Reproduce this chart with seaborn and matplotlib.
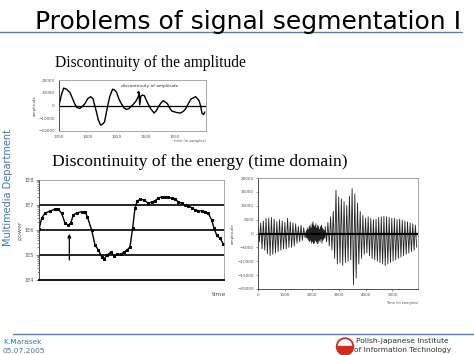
import numpy as np
import pandas as pd
import matplotlib
matplotlib.use("Agg")
import matplotlib.pyplot as plt
import seaborn as sns
from matplotlib.lines import Line2D
from matplotlib.patches import Wedge, Circle
from matplotlib.ticker import LogLocator, NullFormatter

# ---------------- data ----------------
# Panel 1: discontinuity of the amplitude
amp_sample = [1350, 1354, 1358, 1363, 1369, 1373, 1377, 1381, 1386, 1390, 1395, 1400,
              1405, 1409, 1412, 1415, 1418, 1422, 1426, 1429, 1434, 1438, 1443, 1447,
              1450, 1454, 1458, 1463, 1467, 1471, 1475, 1480, 1484, 1487, 1489, 1490,
              1492, 1495, 1498, 1503, 1509, 1515, 1519, 1522, 1527, 1531, 1538, 1542,
              1546, 1554, 1561, 1566, 1570, 1575, 1579, 1587, 1593, 1596, 1598, 1601, 1603]
amp_value = [0, 8000, 13600, 12800, 10200, 6000, 1500, -1500, -2300, -1000, 1500, 5500,
             6900, 5300, 0, -5100, -11000, -15400, -14500, -12800, -1300, 7000, 12800, 12000,
             10200, 5000, 1500, -2000, -3000, -2500, -800, 1500, 3800, 6500, 9000, 500,
             7500, 8200, 7700, 2600, -2500, -5900, -4000, -1300, 2000, 3800, 1500, -2000,
             -4400, -5500, -5900, -4500, -2300, 2000, 5100, 6900, 3800, -1000, -6200, -7000, -5100]
amp_xticks = [1350, 1400, 1450, 1500, 1550]
amp_yticks = [-20000, -10000, 0, 10000, 20000]

# Panel 2: discontinuity of the energy (log power per frame)
frame = [0, 0.8, 1.8, 3.3, 4.8, 5.8, 6.8, 7.8, 8.8, 9.5, 10.3, 11.5, 12.8, 13.8, 14.5,
         15.8, 16.8, 17.8, 18.8, 19.5, 20.5, 21.5, 22.5, 23.5, 24.5, 25.5, 26.5, 27.3,
         28.1, 28.8, 29.5, 30.3, 31.5, 32.8, 33.8, 34.8, 35.8, 36.8, 37.8, 38.8, 39.8,
         40.8, 41.8, 42.8, 43.8, 44.8, 45.8, 46.8, 47.8, 48.8, 49.8, 50.8, 51.8, 52.5,
         53.3, 54.3, 55.3]
log_power = [6.03, 6.47, 6.67, 6.76, 6.83, 6.83, 6.67, 6.27, 6.20, 6.27, 6.60, 6.69,
             6.73, 6.73, 6.53, 6.00, 5.40, 5.20, 4.93, 4.84, 5.00, 5.11, 4.97, 5.03, 5.03,
             5.11, 5.20, 5.33, 6.09, 6.87, 7.16, 7.23, 7.20, 7.07, 7.11, 7.17, 7.27, 7.33,
             7.33, 7.31, 7.27, 7.23, 7.13, 7.07, 7.00, 6.97, 6.89, 6.80, 6.77, 6.77, 6.73,
             6.67, 6.40, 6.07, 5.80, 5.67, 5.44]
power_ticks = [1e4, 1e5, 1e6, 1e7, 1e8]
power_ticklabels = ["1E4", "1E5", "1E6", "1E7", "1E8"]

# Panel 3: speech waveform, per-cycle peaks and troughs for each segment
seg_bounds = [(0, 1800), (1800, 2500), (2500, 2800), (2800, 4000), (4000, 5950)]
seg_peaks = [
    [3000, 3700, 4500, 5500, 5600, 5800, 5200, 4300, 5000, 4500, 4000, 5500, 4200, 3800, 3500, 2500, 3000, 2000],
    [1000, 2000, 1500, 2500, 3000, 2000, 3500, 4200, 3000, 2500, 3500, 2000, 3000, 2500, 1500, 2500, 3000, 2000, 1500, 1000],
    [2500, 4000, 6000],
    [8000, 15600, 13200, 12500, 11500, 10100, 13500, 16200, 14300, 11000, 8000, 6500],
    [5500, 6000, 5500, 5000, 5200, 5800, 6000, 6200, 6000, 5800, 5500, 5500, 5000, 5200, 4800, 4500, 4200, 3800, 3500, 3000],
]
seg_troughs = [
    [-3000, -5500, -6000, -7300, -8000, -7500, -7000, -6500, -6000, -5500, -5500, -5000, -5000, -4500, -3500, -3000, -2500, -1500],
    [-1500, -2000, -2500, -3000, -2500, -3500, -3000, -3700, -3500, -2500, -3000, -3700, -3500, -2500, -3000, -2000, -3500, -2500, -2000, -1500],
    [-3000, -4500, -6000],
    [-9000, -11000, -10600, -11500, -10500, -10000, -9500, -18500, -16000, -11000, -9000, -7500],
    [-7000, -8000, -9000, -9500, -10000, -10500, -11000, -11600, -11000, -10500, -10000, -9500, -9000, -8500, -8000, -7500, -7000, -6500, -6100, -5000],
]
wave_xticks = [0, 1000, 2000, 3000, 4000, 5000]
wave_yticks = [-20000, -15000, -10000, -5000, 0, 5000, 10000, 15000, 20000]

# ---------------- figure ----------------
sns.set_theme(style="white")
plt.rcParams['font.family'] = ['DejaVu Sans']

W, H = 474, 355
fig = plt.figure(figsize=(W / 100, H / 100), dpi=100)
fig.patch.set_facecolor("white")


def box(l, t, r, b):
    return [l / W, 1 - b / H, (r - l) / W, (b - t) / H]


# overlay in pixel coordinates for slide decorations
ov = fig.add_axes([0, 0, 1, 1], zorder=0)
ov.set_xlim(0, W)
ov.set_ylim(H, 0)
ov.axis("off")
ov.patch.set_alpha(0)

BLUE = "#3f74b0"
ov.text(248.5, 28.5, "Problems of signal segmentation I", ha="center", va="baseline",
        fontsize=18, color="black")
ov.add_line(Line2D([0, 462], [32, 32], color="#4f7fb4", lw=1.0))
ov.text(55, 67, "Discontinuity of the amplitude", ha="left", va="baseline",
        fontsize=11.2, family="Liberation Serif", color="black")
ov.text(52, 166, "Discontinuity of the energy (time domain)", ha="left", va="baseline",
        fontsize=12.6, family="Liberation Serif", color="black")
ov.text(8, 188, "Multimedia Department", rotation=90, ha="center", va="center",
        fontsize=7.0, color=BLUE)
ov.add_line(Line2D([13, 474], [334, 334], color="#4f7fb4", lw=1.0))
ov.text(3, 341.5, "K.Marasek", ha="left", va="center", fontsize=5.3, color=BLUE)
ov.text(3, 351, "05.07.2005", ha="left", va="center", fontsize=5.3, color=BLUE)
ov.add_patch(Circle((345, 346.5), 8.3, facecolor="white", edgecolor="#d42a20", lw=1.3))
ov.add_patch(Wedge((345, 346.5), 8.3, 0, 180, facecolor="#d42a20", edgecolor="#d42a20"))
ov.text(402, 340.5, "Polish-Japanese Institute", ha="center", va="center", fontsize=5.4, color="#333333")
ov.text(402.5, 350, "of Information Technology", ha="center", va="center", fontsize=5.4, color="#333333")

TICKC = "#555555"

# ---------------- panel 1 ----------------
ax1 = fig.add_axes(box(59, 80, 206, 131), zorder=2)
df1 = pd.DataFrame({"sample": amp_sample, "amplitude": amp_value})
sns.lineplot(data=df1, x="sample", y="amplitude", ax=ax1, color="black", lw=1.0,
             estimator=None, sort=False)
ax1.axhline(0, color="black", lw=0.9)
ax1.set_xlim(1350, 1605)
ax1.set_ylim(-20000, 20000)
ax1.set_xticks(amp_xticks)
ax1.set_yticks(amp_yticks)
ax1.tick_params(labelsize=3, colors=TICKC, length=1.5, width=0.4, pad=1.5)
for s in ax1.spines.values():
    s.set_color("#999999")
    s.set_linewidth(0.6)
ax1.spines["left"].set_color("#333333")
ax1.set_ylabel("amplitude", fontsize=3, color=TICKC, labelpad=1)
ax1.set_xlabel("")
ax1.text(1.0, -0.2, "time (in samples)", transform=ax1.transAxes, ha="right", va="center",
         fontsize=2.6, color=TICKC)
ax1.annotate("discontinuity of amplitude", xy=(1491, 8800), xytext=(1507, 15400),
             ha="center", va="center", fontsize=3.2, color="#333333",
             arrowprops=dict(arrowstyle="-|>", color="black", lw=0.6, mutation_scale=4,
                             shrinkA=2, shrinkB=0, relpos=(0.23, 0.0)))

# ---------------- panel 2 ----------------
ax2 = fig.add_axes(box(39, 180, 224, 280), zorder=2)
df2 = pd.DataFrame({"frame": frame, "power": [10 ** v for v in log_power]})
sns.lineplot(data=df2, x="frame", y="power", ax=ax2, color="black", lw=1.0,
             marker="s", markersize=2.0, markeredgecolor="black", estimator=None)
ax2.set_yscale("log")
ax2.set_ylim(1e4, 1e8)
ax2.set_xlim(0, 55.5)
for v in power_ticks[1:4]:
    ax2.axhline(v, color="black", lw=1.2, zorder=1)
ax2.set_yticks(power_ticks)
ax2.set_yticklabels(power_ticklabels)
ax2.yaxis.set_minor_locator(LogLocator(base=10, subs=np.arange(2, 10)))
ax2.yaxis.set_minor_formatter(NullFormatter())
ax2.set_xticks([])
ax2.tick_params(axis="y", which="major", labelsize=3.5, colors=TICKC, length=2, width=0.5, pad=1.5, left=True)
ax2.tick_params(axis="y", which="minor", length=1.2, width=0.4, colors="#333333", left=True)
for s in ax2.spines.values():
    s.set_color("#999999")
    s.set_linewidth(0.6)
ax2.spines["left"].set_color("#333333")
ax2.spines["bottom"].set_color("black")
ax2.spines["bottom"].set_linewidth(1.3)
ax2.set_ylabel("power", fontsize=4.5, color=TICKC, labelpad=2)
ax2.set_xlabel("")
ax2.text(1.0 - 0.03, -0.145, "time", transform=ax2.transAxes, ha="center", va="center",
         fontsize=4.5, color=TICKC)
ax2.annotate("", xy=(9.1, 10 ** 5.85), xytext=(9.1, 10 ** 4.8),
             arrowprops=dict(arrowstyle="-|>", color="black", lw=0.9, mutation_scale=5,
                             shrinkA=0, shrinkB=0))

# ---------------- panel 3 ----------------
ax3 = fig.add_axes(box(258, 178, 418, 289), zorder=2)
wx, wy = [], []
for (a, b), pk, tr in zip(seg_bounds, seg_peaks, seg_troughs):
    n = len(pk)
    xs = np.linspace(a, b, 2 * n, endpoint=False)
    vals = [v for pair in zip(pk, tr) for v in pair]
    wx.extend(xs)
    wy.extend(vals)
df3 = pd.DataFrame({"sample": wx, "amplitude": wy})
sns.lineplot(data=df3, x="sample", y="amplitude", ax=ax3, color="#222222", lw=0.6,
             estimator=None, sort=False)
ax3.axhline(0, color="black", lw=1.6)
ax3.set_xlim(0, 5950)
ax3.set_ylim(-20000, 20000)
ax3.set_xticks(wave_xticks)
ax3.set_yticks(wave_yticks)
ax3.tick_params(labelsize=3, colors=TICKC, length=1.5, width=0.4, pad=1.5, left=True, bottom=True)
for s in ax3.spines.values():
    s.set_color("#999999")
    s.set_linewidth(0.6)
ax3.spines["left"].set_color("#333333")
ax3.spines["bottom"].set_color("#333333")
ax3.set_ylabel("amplitude", fontsize=3, color=TICKC, labelpad=2)
ax3.set_xlabel("")
ax3.text(0.9, -0.125, "Time (in samples)", transform=ax3.transAxes, ha="center", va="center",
         fontsize=2.6, color=TICKC)

fig.savefig("out.png", dpi=100)
